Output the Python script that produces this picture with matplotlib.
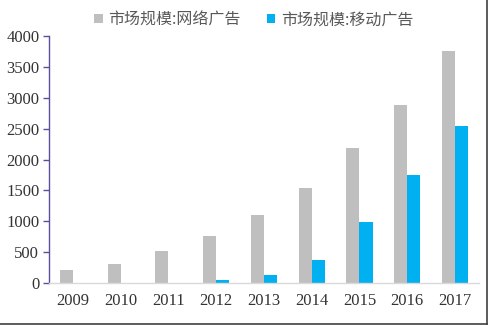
import matplotlib
matplotlib.use("Agg")
import matplotlib.pyplot as plt
import numpy as np

years = ["2009", "2010", "2011", "2012", "2013", "2014", "2015", "2016", "2017"]
online_ads = [210, 313, 513, 766, 1100, 1543, 2186, 2883, 3757]
mobile_ads = [0, 0, 0, 53, 130, 367, 993, 1749, 2547]
series_names = ["市场规模:网络广告", "市场规模:移动广告"]
y_ticks = [0, 500, 1000, 1500, 2000, 2500, 3000, 3500, 4000]

plt.rcParams["font.family"] = ["Noto Sans CJK SC", "DejaVu Sans"]

fig = plt.figure(figsize=(4.88, 3.25), dpi=100)
ax = fig.add_axes([0.1004, 0.1292, 0.881, 0.7598])

x = np.arange(len(years))
w = 0.275
ax.bar(x - w / 2, online_ads, width=w, color="#BFBFBF", label=series_names[0])
ax.bar(x + w / 2, mobile_ads, width=w, color="#00B0F0", label=series_names[1])

ax.set_xlim(-0.5, len(years) - 0.5)
ax.set_ylim(0, 4000)
ax.set_yticks(y_ticks)
ax.set_xticks(x)
ax.set_xticklabels(years)

for s in ["top", "right"]:
    ax.spines[s].set_visible(False)
ax.spines["left"].set_color("#5B4E9E")
ax.spines["left"].set_linewidth(1.0)
ax.spines["bottom"].set_color("#D9D9D9")
ax.spines["bottom"].set_linewidth(1.0)

ax.tick_params(axis="y", direction="out", length=4, color="#5B4E9E", width=1.0, pad=3)
ax.tick_params(axis="x", length=0, pad=7)
for lab in ax.get_xticklabels() + ax.get_yticklabels():
    lab.set_fontfamily("Liberation Serif")
    lab.set_fontsize(12)
    lab.set_color("#333333")

leg = fig.legend(loc="upper center", bbox_to_anchor=(0.52, 1.01), ncol=2, frameon=False,
                 fontsize=11.5, handlelength=0.55, handleheight=0.55, handletextpad=0.35,
                 columnspacing=1.6, labelcolor="#595959")

# outer frame lines on right and bottom of the figure
fig.add_artist(plt.Line2D([0, 0.997], [0.004, 0.004], transform=fig.transFigure, color="#404040", lw=1.2))
fig.add_artist(plt.Line2D([0.997, 0.997], [0.004, 1.0], transform=fig.transFigure, color="#404040", lw=1.2))

fig.savefig("out.png", dpi=100)
